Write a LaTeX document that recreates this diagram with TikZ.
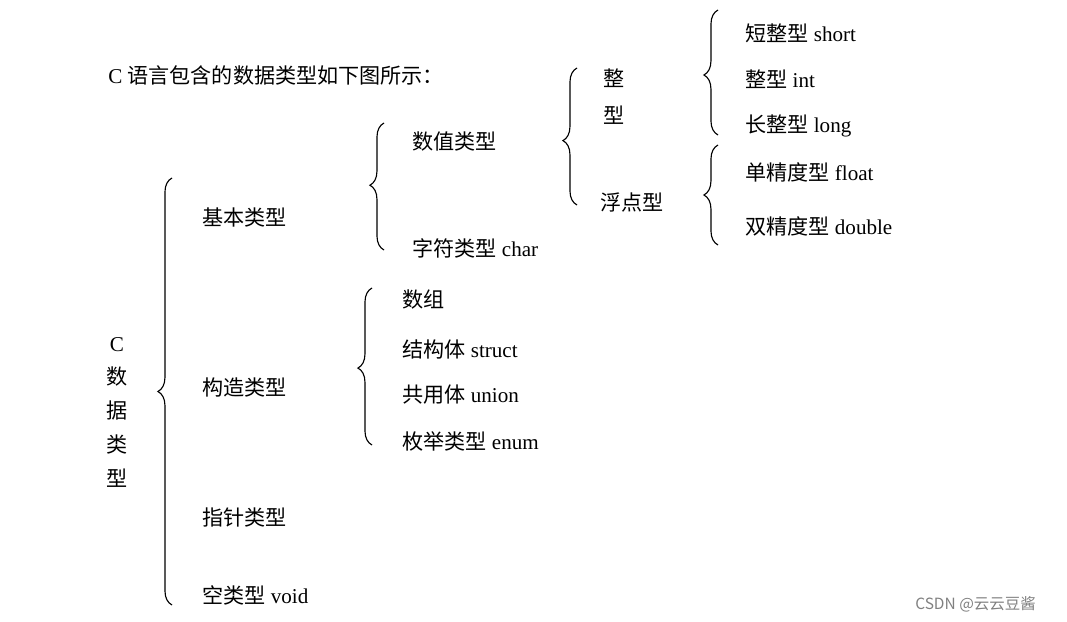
\documentclass[tikz,border=0pt]{standalone}
\usepackage{fontspec}
\setmainfont{Liberation Serif}
\newfontfamily\cjk{Noto Sans CJK SC}
\usetikzlibrary{decorations.pathreplacing}
\tikzset{
  lbl/.style={anchor=west, inner sep=0pt, font=\fontsize{15}{17}\selectfont},
  brc/.style={decorate, thick, decoration={brace, amplitude=10pt, aspect=#1}},
}
\begin{document}
\begin{tikzpicture}[x=0.025cm, y=-0.025cm]
\useasboundingbox (0,0) rectangle (1067,622);
\node[lbl] (title) at (108,75) {C {\cjk 语言包含的数据类型如下图所示：}};
% level 1
\node[lbl, align=center, anchor=center] (root) at (117,412) {C\\[7pt]{\cjk 数}\\[7pt]{\cjk 据}\\[7pt]{\cjk 类}\\[7pt]{\cjk 型}};
\draw[brc=0.5] (172,605) -- (172,178);
\node[lbl] (basic) at (202,217) {\cjk 基本类型};
\node[lbl] (cons) at (202,387) {\cjk 构造类型};
\node[lbl] (ptr) at (202,517) {\cjk 指针类型};
\node[lbl] (void) at (202,595) {{\cjk 空类型} void};
% basic types
\draw[brc=0.51] (384,250) -- (384,123);
\node[lbl] (num) at (412,142) {\cjk 数值类型};
\node[lbl] (chr) at (412,248) {{\cjk 字符类型} char};
\draw[brc=0.47] (577,205) -- (577,68);
\node[lbl] (int1) at (603,78) {\cjk 整};
\node[lbl] (int2) at (603,115) {\cjk 型};
\node[lbl] (flt) at (600,202) {\cjk 浮点型};
\draw[brc=0.48] (718,135) -- (718,10);
\node[lbl] (short) at (745,33) {{\cjk 短整型} short};
\node[lbl] (int) at (745,79) {{\cjk 整型} int};
\node[lbl] (long) at (745,126) {{\cjk 长整型} long};
\draw[brc=0.5] (718,245) -- (718,145);
\node[lbl] (float) at (745,172) {{\cjk 单精度型} float};
\node[lbl] (double) at (745,226) {{\cjk 双精度型} double};
% constructed types
\draw[brc=0.49] (372,445) -- (372,288);
\node[lbl] (arr) at (402,300) {\cjk 数组};
\node[lbl] (struct) at (402,349) {{\cjk 结构体} struct};
\node[lbl] (union) at (402,395) {{\cjk 共用体} union};
\node[lbl] (enum) at (402,441) {{\cjk 枚举类型} enum};
\node[lbl, font=\cjk\fontsize{11}{13}\selectfont, text=gray] (mark) at (915,604) {CSDN @云云豆酱};
\end{tikzpicture}
\end{document}
